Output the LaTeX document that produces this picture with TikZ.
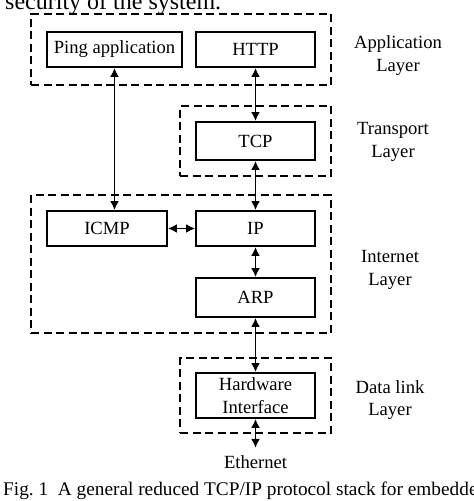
\documentclass[tikz,border=0pt]{standalone}
\usepackage{fontspec}
\setmainfont{Liberation Serif}
\usetikzlibrary{positioning,fit,arrows.meta}

\begin{document}
\begin{tikzpicture}[x=1pt, y=-1pt,
		font=\fontsize{18.6pt}{22.5pt}\selectfont,
		>={Latex[length=9pt,width=9pt]},
		proto/.style={draw, rectangle, line width=1.8pt, minimum width=119pt, minimum height=35pt, inner sep=0pt, align=center},
		layerbox/.style={draw, rectangle, line width=2.5pt, dash pattern=on 8pt off 4.5pt, inner sep=15pt},
		layerlabel/.style={align=center, inner sep=0pt},
		conn/.style={<->, line width=1.8pt}]
		\useasboundingbox (0,0) rectangle (474,501);

		\node (toptext) [anchor=base west, inner sep=0pt, font=\fontsize{24pt}{28pt}\selectfont] at (5,9.5) {security of the system.};

		\node (ping) [proto, minimum width=135pt] at (114.5,49.5) {Ping application};
		\node (http) [proto, right=12.2pt of ping] {HTTP};
		\node (tcp) [proto, minimum height=38pt, below=53.2pt of http] {TCP};
		\node (ip) [proto, below=49.2pt of tcp] {IP};
		\node (icmp) [proto, minimum width=120pt, left=27.2pt of ip] {ICMP};
		\node (arp) [proto, minimum height=39pt, below=30.2pt of ip] {ARP};
		\node (hwif) [proto, minimum height=45pt, below=54.2pt of arp] {Hardware\\Interface};
		\node (ethernet) [inner xsep=0pt, inner ysep=7pt, below=29pt of hwif] {Ethernet};

		\node (applayer) [layerbox, inner ysep=17pt, fit=(ping) (http)] {};
		\node (translayer) [layerbox, fit=(tcp)] {};
		\node (netlayer) [layerbox, fit=(icmp) (ip) (arp)] {};
		\node (linklayer) [layerbox, inner ysep=14pt, fit=(hwif)] {};

		\node (applabel) [layerlabel] at (398,55.5) {Application\\Layer};
		\node (translabel) [layerlabel] at (393,142) {Transport\\Layer};
		\node (netlabel) [layerlabel] at (390,270) {Internet\\Layer};
		\node (linklabel) [layerlabel] at (390,400) {Data link\\Layer};

		\draw[conn] (ping.south) -- (ping.south |- icmp.north);
		\draw[conn] (http) -- (tcp);
		\draw[conn] (tcp) -- (ip);
		\draw[conn] (icmp) -- (ip);
		\draw[conn] (ip) -- (arp);
		\draw[conn] (arp) -- (hwif);
		\draw[conn] (hwif) -- (ethernet);

		\node (caption) [anchor=base west, inner sep=0pt, font=\fontsize{19.3pt}{23pt}\selectfont] at (3,495) {Fig.~1\enspace A general reduced TCP/IP protocol stack for embedde};
	\end{tikzpicture}
\end{document}
